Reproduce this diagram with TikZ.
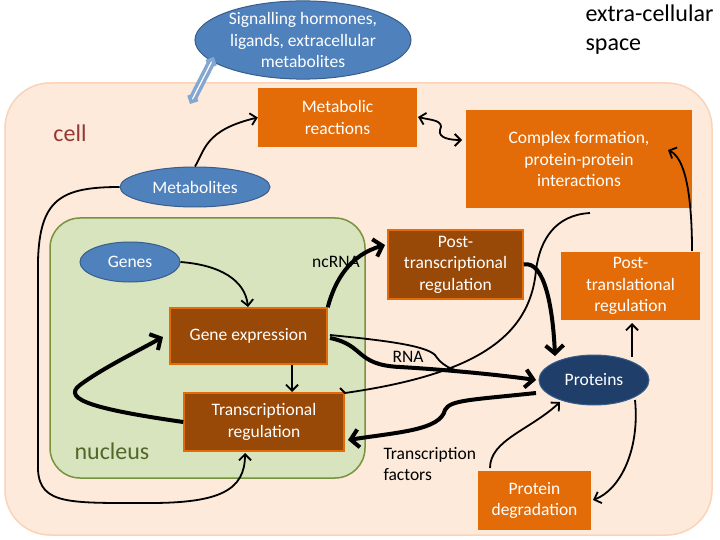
\documentclass[tikz,border=0pt]{standalone}
\usepackage{fontspec}
\setmainfont{Carlito}
\usetikzlibrary{arrows.meta,shapes.geometric}
\definecolor{cellfill}{HTML}{FDEADA}
\definecolor{cellline}{HTML}{FAD3B8}
\definecolor{nucfill}{HTML}{D7E4BD}
\definecolor{nucline}{HTML}{77933C}
\definecolor{blu}{HTML}{4F81BD}
\definecolor{bludark}{HTML}{385D8A}
\definecolor{navy}{HTML}{1F3F6A}
\definecolor{orng}{HTML}{E36C09}
\definecolor{brwn}{HTML}{984807}
\definecolor{cellred}{HTML}{953735}
\tikzset{
 fs/.style={font=\fontsize{17.5}{21.5}\selectfont},
 obox/.style={fs,fill=orng,draw=none,text=white,align=center,inner sep=1pt},
 bbox/.style={fs,fill=brwn,draw=orng,line width=1.5pt,text=white,align=center,inner sep=1pt},
 ell/.style={fs,ellipse,fill=blu,draw=bludark,line width=1pt,text=white,align=center,inner sep=0pt},
 thin/.style={line width=1.8pt,-{Straight Barb[length=6pt,width=12pt]}},
 thick/.style={line width=4pt,-{Straight Barb[length=8pt,width=18pt]}},
 lbl/.style={fs,align=left},
}
\begin{document}
\begin{tikzpicture}[x=1pt,y=-1pt]
\useasboundingbox (0,0) rectangle (720,540);
\fill[white] (0,0) rectangle (720,540);
\draw[fill=cellfill,draw=cellline,line width=1.5pt,rounded corners=45pt] (5,83) rectangle (712,535);
\draw[fill=nucfill,draw=nucline,line width=1.5pt,rounded corners=30pt] (50,218) rectangle (365,478);
\node[ell,minimum width=216,minimum height=66] (sig) at (303,40) {Signalling hormones,\\ ligands, extracellular\\ metabolites};
\node[lbl,font=\fontsize{24}{29}\selectfont,anchor=west] (ecs) at (582,30) {extra-cellular\\ space};
\node[font=\fontsize{24}{28}\selectfont,text=cellred] (cell) at (70,133) {cell};
\node[font=\fontsize{24}{28}\selectfont,text=nucline!70!black] (nuc) at (112,451) {nucleus};
\node[obox,minimum width=159,minimum height=59] (met) at (337.5,117.5) {Metabolic\\ reactions};
\node[obox,minimum width=226,minimum height=98] (cplx) at (579,159) {Complex formation,\\ protein-protein\\ interactions};
\node[ell,minimum width=150,minimum height=40] (mets) at (195,187) {Metabolites};
\node[ell,minimum width=100,minimum height=40] (genes) at (130,262) {Genes};
\node[bbox,minimum width=135,minimum height=69] (ptr) at (455.5,264.5) {Post-\\ transcriptional\\ regulation};
\node[obox,minimum width=139,minimum height=68] (ptl) at (630.5,286) {Post-\\ translational\\ regulation};
\node[bbox,minimum width=157,minimum height=56] (gex) at (248.5,336) {Gene expression};
\node[bbox,minimum width=160,minimum height=58] (trr) at (264,422) {Transcriptional\\ regulation};
\node[ell,fill=navy,minimum width=110,minimum height=50] (prot) at (594,380) {Proteins};
\node[obox,minimum width=113,minimum height=59] (pdeg) at (534.5,500.5) {Protein\\ degradation};
\node[lbl] (ncrna) at (336,262) {ncRNA};
\node[lbl] (rna) at (408,357) {RNA};
\node[lbl,anchor=west] (tf) at (380,464) {Transcription\\ factors};
% signalling <-> cell
\draw[blu!70,line width=3.5pt,double=white,double distance=1.2pt,{Straight Barb[length=5pt,width=10pt]}-{Straight Barb[length=5pt,width=10pt]}] (190,104) -- (214,57);
% connectors
\draw[thin] (mets.north) .. controls (205,150) and (205,130) .. (met.west);
\draw[thin] (mets.west) .. controls (60,187) and (40,200) .. (38,260) -- (38,470) .. controls (40,505) and (70,503) .. (150,503) .. controls (220,503) and (245,490) .. (245,453);
\draw[thin] (genes.east) .. controls (220,265) and (245,280) .. (248,307);
\draw[thick] (trr.west) .. controls (100,410) and (60,400) .. (80,385) .. controls (100,370) and (130,355) .. (163,337);
\draw[thin] (292,365) -- (292,392);
\draw[thick] (gex.north east) .. controls (335,280) and (350,255) .. (385,245);
\draw[thick] (330,338) .. controls (365,345) and (355,365) .. (400,367) .. controls (450,370) and (500,375) .. (536,380);
\draw[line width=1.8pt] (330,335) .. controls (380,340) and (425,345) .. (435,355) .. controls (445,370) and (460,372) .. (470,372);
\draw[line width=1.8pt] (590,213) .. controls (555,215) and (540,240) .. (536,270) .. controls (530,340) and (470,375) .. (345,393) -- (340,388);
\draw[thick] (ptr.east) .. controls (545,260) and (553,310) .. (555,356);
\draw[thick] (536,393) .. controls (470,400) and (450,400) .. (445,410) .. controls (440,430) and (400,432) .. (348,440);
\draw[thin] (490,468) .. controls (490,440) and (530,430) .. (560,402);
\draw[thin] (635,400) .. controls (640,450) and (620,490) .. (593,500);
\draw[thin] (632,357) -- (632,323);
\draw[thin] (692,251) .. controls (692,220) and (690,160) .. (668,150);
\draw[line width=1.8pt,{Straight Barb[length=6pt,width=12pt]}-{Straight Barb[length=6pt,width=12pt]}] (418,117) .. controls (430,120) and (445,120) .. (440,130) .. controls (438,138) and (450,140) .. (462,140);
\end{tikzpicture}
\end{document}
